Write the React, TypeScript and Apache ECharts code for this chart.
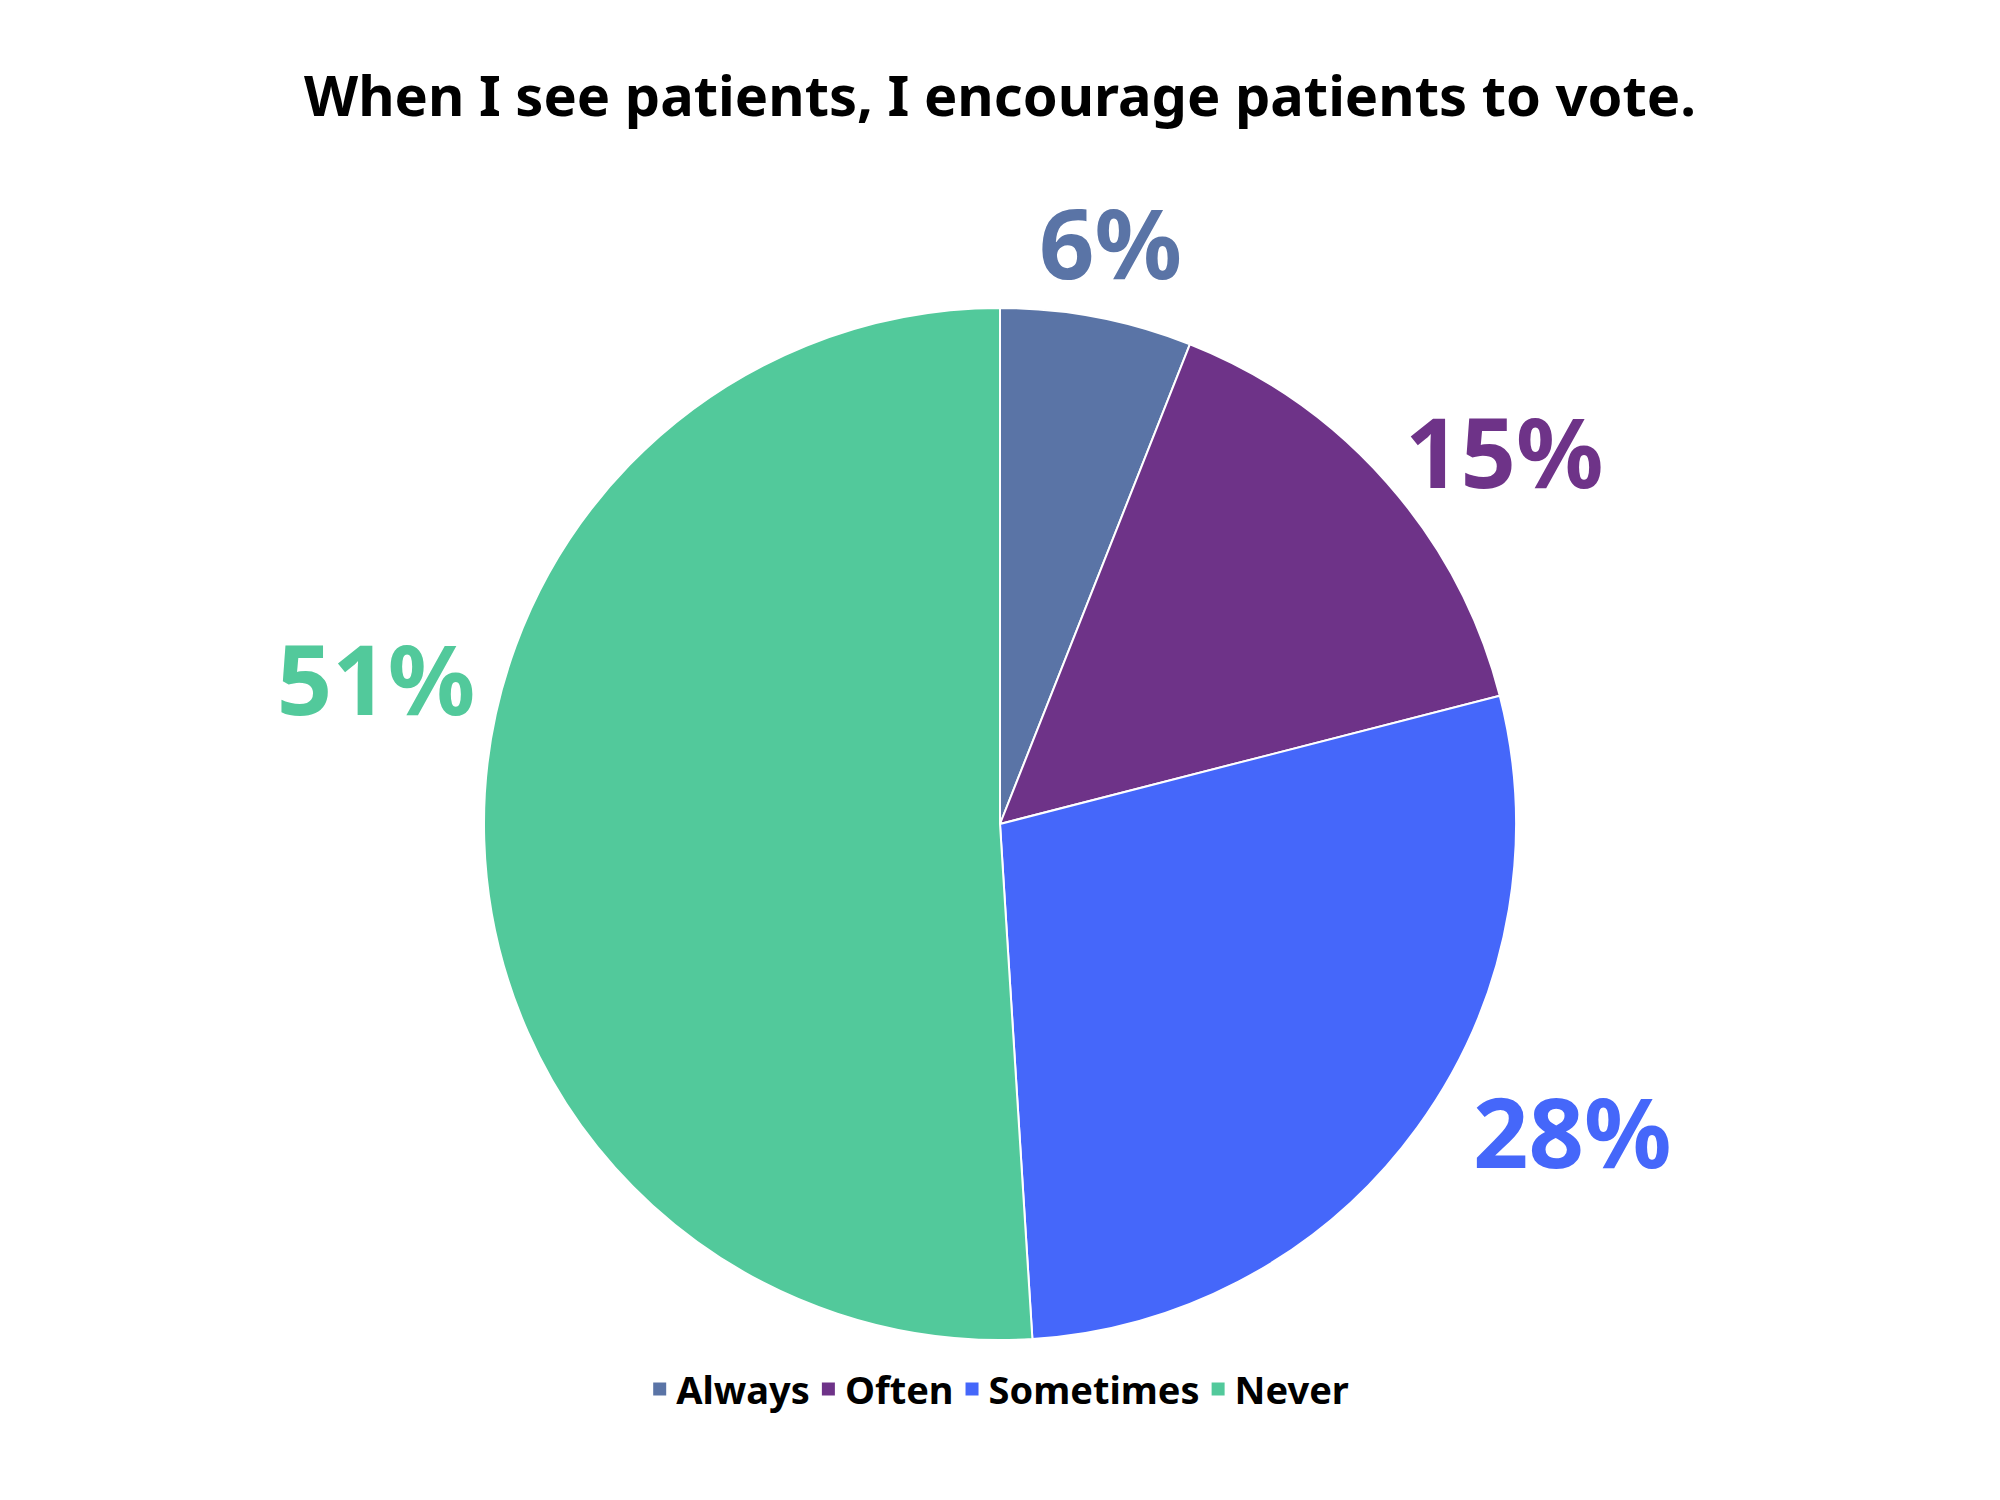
import { useEffect, useRef } from 'react';
import * as echarts from 'echarts';

// 数据
const categories = ['Always', 'Often', 'Sometimes', 'Never'];
const values = [6, 15, 28, 51];

// 样式
const COLORS = ['#5a74a6', '#6e3388', '#4567fa', '#52c99b'];
const FONT = '"Noto Sans", "Open Sans", sans-serif';
// label nudges (px) from the default outside position
const LABEL_NUDGE: [number, number][] = [
    [-69, -17],
    [-27, 7],
    [7, -33],
    [51, -165]
];

const App = () => {
    const chartRef = useRef<HTMLDivElement>(null);

    useEffect(() => {
        document.body.style.margin = '0';
        if (!chartRef.current) return;
        const chart = echarts.init(chartRef.current, undefined, { renderer: 'svg' });

        chart.setOption({
            animation: false,
            backgroundColor: '#ffffff',
            color: COLORS,
            title: {
                text: 'When I see patients, I encourage patients to vote.',
                left: 'center',
                top: 54,
                textStyle: {
                    fontFamily: FONT,
                    fontSize: 56,
                    fontWeight: 'bold',
                    color: '#000000',
                    lineHeight: 70
                }
            },
            legend: {
                data: categories,
                left: 'center',
                top: 1362,
                icon: 'rect',
                itemWidth: 15,
                itemHeight: 15,
                itemGap: 10,
                textStyle: {
                    fontFamily: FONT,
                    fontSize: 38,
                    fontWeight: 'bold',
                    color: '#000000',
                    lineHeight: 44,
                    padding: [0, 0, 0, 4]
                }
            },
            series: [
                {
                    type: 'pie',
                    center: [1000, 824],
                    radius: 516,
                    startAngle: 90,
                    clockwise: true,
                    avoidLabelOverlap: false,
                    itemStyle: { borderColor: '#ffffff', borderWidth: 2 },
                    label: {
                        show: true,
                        position: 'outside',
                        formatter: '{c}%',
                        fontFamily: FONT,
                        fontSize: 97,
                        fontWeight: 'bold',
                        color: 'inherit',
                        distanceToLabelLine: 0
                    },
                    labelLine: { show: false, length: 60, length2: 0 },
                    labelLayout: (params: any) => {
                        const n = LABEL_NUDGE[params.dataIndex] || [0, 0];
                        return { dx: n[0], dy: n[1] };
                    },
                    emphasis: { disabled: true },
                    data: categories.map((name, i) => ({
                        name,
                        value: values[i],
                        label: { color: COLORS[i] }
                    }))
                }
            ]
        });

        return () => {
            chart.dispose();
        };
    }, []);

    return <div ref={chartRef} style={{ width: '2000px', height: '1500px' }} />;
};

export default App;
